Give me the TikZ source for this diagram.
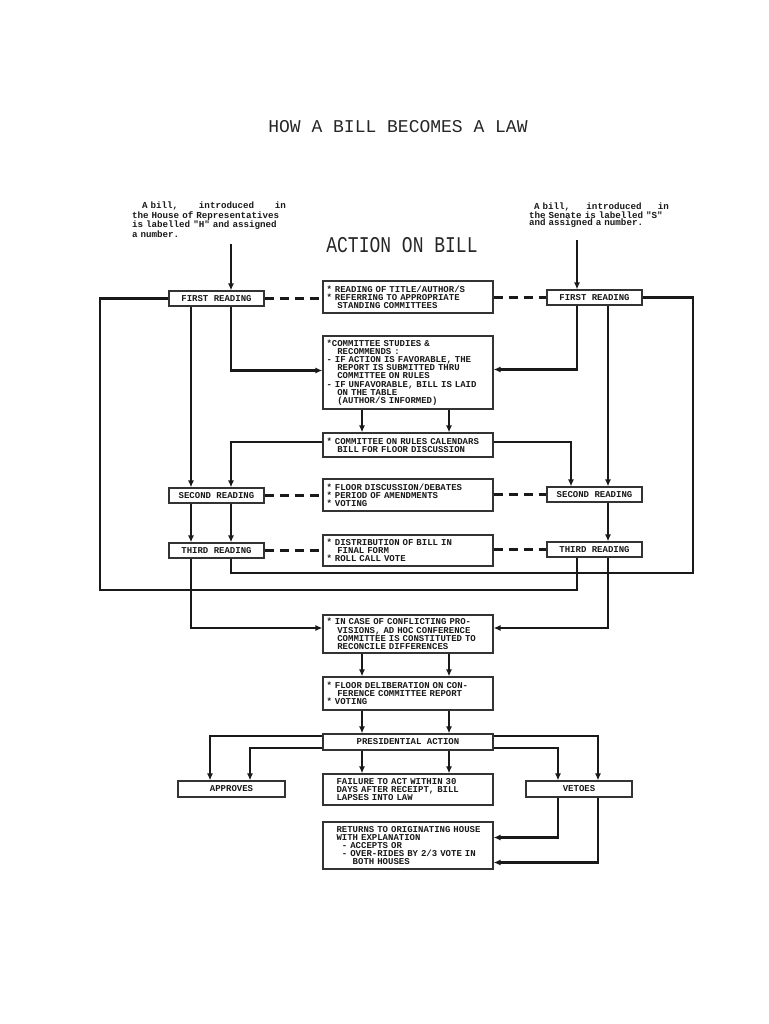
\documentclass[tikz,border=0pt]{standalone}
\usepackage{fontspec}
\usepackage{graphicx}
\setmonofont{Liberation Mono}
\usetikzlibrary{arrows.meta}
\newcommand{\ind}{\hspace*{1.2em}}
\newcommand{\pre}{\hspace*{10pt}}
\newcommand{\bul}{{*}\ }
\begin{document}
\begin{tikzpicture}[x=1pt,y=-1pt,
  txt/.style={font=\ttfamily\bfseries\fontsize{9}{8.2}\selectfont, text=black!90},
  cbox/.style={draw=black!80, line width=1.1pt, txt, align=left, text width=163pt, inner xsep=3.5pt, inner ysep=0pt},
  rbox/.style={draw=black!80, line width=1.1pt, txt, minimum width=95pt, minimum height=15pt, inner sep=0pt},
  conn/.style={line width=2.2pt, draw=black!90},
  arr/.style={conn, -{Latex[length=7pt,width=6pt]}},
  dsh/.style={conn, dash pattern=on 9pt off 6pt},
  intro/.style={font=\ttfamily\bfseries\fontsize{9.2}{7.4}\selectfont, align=left, inner sep=0pt, text=black!90}
]
\useasboundingbox (0,0) rectangle (768,1024);

% column coordinates
\coordinate (cL1) at (191,0);
\coordinate (cL2) at (231,0);
\coordinate (cR0) at (571,0);
\coordinate (cR1) at (577,0);
\coordinate (cR2) at (608,0);
\coordinate (cA) at (362,0);
\coordinate (cB) at (449,0);
\coordinate (cP1) at (210,0);
\coordinate (cP2) at (250,0);
\coordinate (cP3) at (558,0);
\coordinate (cP4) at (598,0);
\coordinate (loopL) at (100,590);
\coordinate (loopR) at (693,573);

% titles
\node[font=\ttfamily\fontsize{18}{20}\selectfont, text=black!85] (title) at (398,127) {HOW A BILL BECOMES A LAW};
\node[font=\ttfamily\fontsize{18}{20}\selectfont, text=black!85] (action) at (402,245) {\scalebox{1}[1.25]{ACTION ON BILL}};

% intro texts
\node[intro, text width=154pt] (intL) at (209,220) {\hspace*{10pt}A bill,\hfill introduced\hfill in\\the House of Representatives\\is labelled "H" and assigned\\a number.};
\node[intro, text width=140pt] (intR) at (599,215) {\hspace*{5pt}A bill,\hfill introduced\hfill in\\the Senate is labelled "S"\\and assigned a number.};
\coordinate (inL) at ([yshift=-6pt]intL.south);
\coordinate (inR) at ([yshift=-12pt]intR.south);

% reading boxes
\node[rbox] (fr1) at (216.5,298.5) {FIRST READING};
\node[rbox] (sr1) at (216.5,495.5) {SECOND READING};
\node[rbox] (tr1) at (216.5,550.5) {THIRD READING};
\node[rbox] (fr2) at (594.5,297.5) {FIRST READING};
\node[rbox] (sr2) at (594.5,494.5) {SECOND READING};
\node[rbox] (tr2) at (594.5,549.5) {THIRD READING};

% central boxes
\node[cbox, minimum height=32pt] (b1) at (408,297) {\bul READING OF TITLE/AUTHOR/S\\\bul REFERRING TO APPROPRIATE\\\ind STANDING COMMITTEES};
\node[cbox, minimum height=73pt] (b2) at (408,372.5) {{*}COMMITTEE STUDIES \&\\\ind RECOMMENDS :\\- IF ACTION IS FAVORABLE, THE\\\ind REPORT IS SUBMITTED THRU\\\ind COMMITTEE ON RULES\\- IF UNFAVORABLE, BILL IS LAID\\\ind ON THE TABLE\\\ind (AUTHOR/S INFORMED)};
\node[cbox, minimum height=24pt] (b3) at (408,445) {\bul COMMITTEE ON RULES CALENDARS\\\ind BILL FOR FLOOR DISCUSSION};
\node[cbox, minimum height=32pt] (b4) at (408,495) {\bul FLOOR DISCUSSION/DEBATES\\\bul PERIOD OF AMENDMENTS\\\bul VOTING};
\node[cbox, minimum height=31pt] (b5) at (408,550.5) {\bul DISTRIBUTION OF BILL IN\\\ind FINAL FORM\\\bul ROLL CALL VOTE};
\node[cbox, minimum height=38pt] (b6) at (408,634) {\bul IN CASE OF CONFLICTING PRO-\\\ind VISIONS, AD HOC CONFERENCE\\\ind COMMITTEE IS CONSTITUTED TO\\\ind RECONCILE DIFFERENCES};
\node[cbox, minimum height=33pt] (b7) at (408,693.5) {\bul FLOOR DELIBERATION ON CON-\\\ind FERENCE COMMITTEE REPORT\\\bul VOTING};
\node[rbox, minimum width=170pt, minimum height=16pt] (pres) at (408,742) {PRESIDENTIAL ACTION};
\node[cbox, minimum height=31pt] (fail) at (408,789.5) {\pre FAILURE TO ACT WITHIN 30\\\pre DAYS AFTER RECEIPT, BILL\\\pre LAPSES INTO LAW};
\node[cbox, minimum height=47pt] (ret) at (408,845.5) {\pre RETURNS TO ORIGINATING HOUSE\\\pre WITH EXPLANATION\\\pre \hspace*{0.6em}- ACCEPTS OR\\\pre \hspace*{0.6em}- OVER-RIDES BY 2/3 VOTE IN\\\pre \hspace*{1.8em}BOTH HOUSES};
\node[rbox, minimum width=107pt, minimum height=16pt] (appr) at (231.5,789) {APPROVES};
\node[rbox, minimum width=106pt, minimum height=16pt] (veto) at (579,789) {VETOES};

% dashed links
\draw[dsh] (fr1.east) -- (fr1.east -| b1.west);
\draw[dsh] (b1.east |- fr2.west) -- (fr2.west);
\draw[dsh] (sr1.east) -- (sr1.east -| b4.west);
\draw[dsh] (b4.east |- sr2.west) -- (sr2.west);
\draw[dsh] (tr1.east) -- (tr1.east -| b5.west);
\draw[dsh] (b5.east |- tr2.west) -- (tr2.west);

% intro arrows
\draw[arr] (inL -| cL2) -- (fr1.north -| cL2);
\draw[arr] (inR -| cR1) -- (fr2.north -| cR1);

% left column
\draw[arr] (fr1.south -| cL2) |- ([yshift=2pt]b2.west);
\draw[arr] (fr1.south -| cL1) -- (sr1.north -| cL1);
\draw[arr] ([yshift=3pt]b3.west) -| (sr1.north -| cL2);
\draw[arr] (sr1.south -| cL1) -- (tr1.north -| cL1);
\draw[arr] (sr1.south -| cL2) -- (tr1.north -| cL2);
\draw[arr] (tr1.south -| cL1) |- ([yshift=6pt]b6.west);
\draw[conn] (tr1.south -| cL2) |- (loopR) |- (fr2.east);

% right column
\draw[arr] (fr2.south -| cR1) |- ([yshift=3pt]b2.east);
\draw[arr] (fr2.south -| cR2) -- (sr2.north -| cR2);
\draw[arr] ([yshift=3pt]b3.east) -| (sr2.north -| cR0);
\draw[arr] (sr2.south -| cR2) -- (tr2.north -| cR2);
\draw[arr] (tr2.south -| cR2) |- ([yshift=6pt]b6.east);
\draw[conn] (tr2.south -| cR1) |- (loopL) |- (fr1.west);

% central arrows
\draw[arr] (b2.south -| cA) -- (b3.north -| cA);
\draw[arr] (b2.south -| cB) -- (b3.north -| cB);
\draw[arr] (b6.south -| cA) -- (b7.north -| cA);
\draw[arr] (b6.south -| cB) -- (b7.north -| cB);
\draw[arr] (b7.south -| cA) -- (pres.north -| cA);
\draw[arr] (b7.south -| cB) -- (pres.north -| cB);
\draw[arr] (pres.south -| cA) -- (fail.north -| cA);
\draw[arr] (pres.south -| cB) -- (fail.north -| cB);

% presidential action
\draw[arr] ([yshift=6pt]pres.west) -| (appr.north -| cP1);
\draw[arr] ([yshift=-6pt]pres.west) -| (appr.north -| cP2);
\draw[arr] ([yshift=6pt]pres.east) -| (veto.north -| cP4);
\draw[arr] ([yshift=-6pt]pres.east) -| (veto.north -| cP3);
\draw[arr] (veto.south -| cP3) |- ([yshift=8pt]ret.east);
\draw[arr] (veto.south -| cP4) |- ([yshift=-17pt]ret.east);
\end{tikzpicture}
\end{document}
